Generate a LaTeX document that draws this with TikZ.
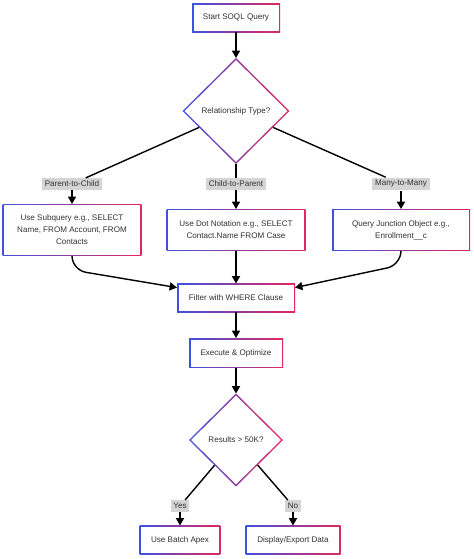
\documentclass[tikz,border=0pt]{standalone}
\usepackage{fontspec}
\setmainfont{Liberation Sans}
\usetikzlibrary{shapes.geometric,arrows.meta,calc,backgrounds}
\definecolor{qblue}{HTML}{3F51E0}
\definecolor{qpink}{HTML}{E2275F}
\definecolor{ink}{HTML}{333333}
\definecolor{tag}{HTML}{D4D4D4}

\tikzset{
  qbox/.style={rectangle,fill=white,outer sep=0.85pt,inner sep=0pt,text=ink,align=center,
    font=\fontsize{4.6}{6.8}\selectfont},
  qdec/.style={diamond,fill=white,outer sep=0.85pt,inner sep=0pt,text=ink,
    font=\fontsize{4.6}{6.8}\selectfont},
  qtag/.style={fill=tag,inner sep=1.6pt,text=ink,font=\fontsize{4.6}{5.4}\selectfont},
  arr/.style={line width=0.8pt,-{Triangle[length=4.2pt,width=4.6pt]}},
  plain/.style={line width=0.8pt}
}

\begin{document}
\begin{tikzpicture}
        \useasboundingbox (0,0) rectangle (9.48,-11.18);
        \node[qbox,minimum width=1.70cm,minimum height=0.52cm] (start) at (4.72,-0.36) {Start SOQL Query};
        \node[qdec,minimum width=2.08cm,minimum height=2.06cm] (rel) at (4.72,-2.22) {Relationship Type?};
        \node[qtag] (ptc) at (1.44,-3.68) {Parent-to-Child};
        \node[qtag] (ctp) at (4.72,-3.68) {Child-to-Parent};
        \node[qtag] (mtm) at (8.02,-3.68) {Many-to-Many};
        \node[qbox,minimum width=2.72cm,minimum height=0.98cm] (sub) at (1.44,-4.60) {Use Subquery e.g., SELECT\\Name, FROM Account, FROM\\Contacts};
        \node[qbox,minimum width=2.72cm,minimum height=0.78cm] (dot) at (4.72,-4.60) {Use Dot Notation e.g., SELECT\\Contact.Name FROM Case};
        \node[qbox,minimum width=2.70cm,minimum height=0.78cm] (junc) at (8.02,-4.60) {Query Junction Object e.g.,\\Enrollment\_\_c};
        \node[qbox,minimum width=2.30cm,minimum height=0.52cm] (filter) at (4.72,-5.96) {Filter with WHERE Clause};
        \node[qbox,minimum width=1.82cm,minimum height=0.54cm] (exec) at (4.72,-7.06) {Execute \& Optimize};
        \node[qdec,minimum width=1.82cm,minimum height=1.80cm] (res) at (4.72,-8.80) {Results > 50K?};
        \node[qtag] (yes) at (3.60,-10.12) {Yes};
        \node[qtag] (no) at (5.86,-10.12) {No};
        \node[qbox,minimum width=1.56cm,minimum height=0.52cm] (batch) at (3.60,-10.80) {Use Batch Apex};
        \node[qbox,minimum width=1.84cm,minimum height=0.52cm] (disp) at (5.86,-10.80) {Display/Export Data};

        % gradient borders behind the white nodes
        \begin{scope}[on background layer]
          \foreach \n in {start,sub,dot,junc,filter,exec,batch,disp} {
            \shade[left color=qblue,right color=qpink] (\n.south west) rectangle (\n.north east);
          }
          \foreach \n in {rel,res} {
            \shade[left color=qblue,right color=qpink] (\n.north) -- (\n.east) -- (\n.south) -- (\n.west) -- cycle;
          }
        \end{scope}

        \draw[arr] (start) -- (rel);
        \draw[plain] (rel) -- (ptc);
        \draw[plain] (rel) -- (ctp);
        \draw[plain] (rel) -- (mtm);
        \draw[arr] (ptc) -- (sub);
        \draw[arr] (ctp) -- (dot);
        \draw[arr] (mtm) -- (junc);
        \draw[arr,rounded corners=8pt] (sub.south) -- ++(0,-0.28) -- (filter.170);
        \draw[arr] (dot) -- (filter);
        \draw[arr,rounded corners=8pt] (junc.south) -- ++(0,-0.28) -- (filter.10);
        \draw[arr] (filter) -- (exec);
        \draw[arr] (exec) -- (res);
        \draw[plain] (res) -- (yes);
        \draw[plain] (res) -- (no);
        \draw[arr] (yes) -- (batch);
        \draw[arr] (no) -- (disp);
\end{tikzpicture}
\end{document}
